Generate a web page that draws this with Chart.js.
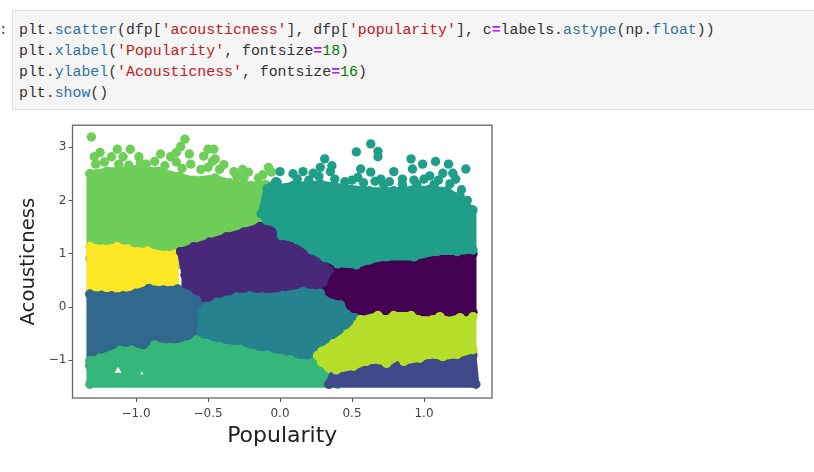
<!DOCTYPE html>
<html>
<head>
<meta charset="utf-8">
<script src="https://cdn.jsdelivr.net/npm/chart.js@4"></script>
<style>
  html, body { margin: 0; padding: 0; background: #fff; overflow: hidden; }
  body { width: 814px; height: 472px; position: relative; }
  .prompt { position: absolute; left: -1px; top: 20px; font: 14px/21px "Liberation Mono", monospace; color: #303f9f; }
  .cell {
    position: absolute; left: 12px; top: 10px; width: 820px; height: 98px;
    background: #f5f5f5; border: 1px solid #e0e0e0; box-sizing: content-box;
  }
  .cell pre {
    margin: 0; position: absolute; left: 6px; top: 9px;
    font: 14.86px/21px "Liberation Mono", monospace; color: #333;
  }
  .f { color: #30729f; } .s { color: #ba2121; } .o { color: #aa22ff; font-weight: bold; } .n { color: #008000; }
  #wrap { position: absolute; left: 0; top: 116px; width: 510px; height: 345px; filter: blur(0.45px); }
</style>
</head>
<body>
<div class="prompt">:</div>
<div class="cell"><pre>plt.<span class="f">scatter</span>(dfp[<span class="s">'acousticness'</span>], dfp[<span class="s">'popularity'</span>], c<span class="o">=</span>labels.<span class="f">astype</span>(np.<span class="f">float</span>))
plt.<span class="f">xlabel</span>(<span class="s">'Popularity'</span>, fontsize<span class="o">=</span><span class="n">18</span>)
plt.<span class="f">ylabel</span>(<span class="s">'Acousticness'</span>, fontsize<span class="o">=</span><span class="n">16</span>)
plt.<span class="f">show</span>()</pre></div>
<div id="wrap"><canvas id="chart" width="510" height="345"></canvas></div>
<script>
// cluster outlines, [acousticness, popularity] as plotted
const lightGreenOutline = [[-1.32,2.5],[-1.2,2.55],[-1.0,2.58],[-0.85,2.55],[-0.7,2.45],[-0.6,2.38],[-0.45,2.42],[-0.35,2.33],[-0.2,2.28],[-0.1,2.3],[0.0,2.2],[0.0,1.3],[-0.1,0.8],[-0.7,0.8],[-1.32,0.9]];
const lightGreenStray = [[-1.31,3.19],[-0.66,3.15],[-1.13,2.96],[-1.04,2.96],[-0.69,3.01],[-0.5,2.96],[-0.46,2.96],[-1.25,2.9],[-1.29,2.82],[-0.72,2.9],[-0.83,2.87],[-0.63,2.87],[-1.17,2.82],[-1.09,2.82],[-0.98,2.82],[-0.53,2.83],[-0.45,2.78],[-0.47,2.73],[-0.39,2.67],[-0.62,2.68],[-0.93,2.68],[-0.76,2.82],[-0.87,2.73],[-0.26,2.58],[-0.32,2.54],[-0.22,2.53],[-0.12,2.48],[-0.08,2.62],[-0.06,2.53],
  [-1.28,2.68],[-1.22,2.72],[-1.12,2.68],[-1.05,2.66],[-0.97,2.7],[-0.8,2.65],[-0.72,2.72],[-0.68,2.6],[-0.55,2.58],[-0.5,2.62],[-0.42,2.58],[-0.3,2.45],[-0.15,2.42],[-0.25,2.42]];
const yellowOutline = [[-1.32,1.13],[-1.23,1.09],[-1.13,1.13],[-1.06,1.09],[-0.99,1.04],[-0.92,1.05],[-0.79,0.97],[-0.73,0.99],[-0.725,0.3],[-1.32,0.3]];
const darkPurpleOutline = [[0.2,1.0],[0.6,1.1],[1.25,1.2],[1.34,1.0],[1.34,-0.1],[1.25,-0.4],[0.6,-0.4],[0.35,0.0],[0.25,0.45]];
const purpleOutline = [[-0.69,1.04],[-0.6,1.13],[-0.49,1.22],[-0.37,1.32],[-0.25,1.41],[-0.14,1.51],[-0.05,1.55],[0.2,1.2],[0.34,0.68],[0.3,0.46],[0.2,0.2],[-0.4,0.0],[-0.66,0.2],[-0.66,0.6]];
const steelOutline = [[-1.32,0.24],[-1.24,0.22],[-1.17,0.21],[-1.09,0.21],[-1.0,0.26],[-0.91,0.35],[-0.81,0.32],[-0.71,0.34],[-0.64,0.24],[-0.58,0.13],[-0.55,0.02],[-0.4,-0.3],[-0.45,-0.9],[-1.32,-1.1]];
const tealBlueOutline = [[-0.54,-0.29],[-0.54,-0.1],[-0.51,0.01],[-0.44,0.09],[-0.37,0.13],[-0.3,0.19],[-0.21,0.21],[-0.12,0.19],[0.02,0.22],[0.16,0.29],[0.28,0.26],[0.31,0.13],[0.42,0.04],[0.46,-0.13],[0.52,-0.2],[0.4,-0.7],[0.28,-0.9],[0.1,-1.1],[-0.3,-1.0],[-0.55,-0.7],[-0.55,-0.48]];
const greenOutline = [[-1.32,-1.01],[-1.25,-0.96],[-1.11,-0.81],[-1.03,-0.81],[-0.93,-0.87],[-0.87,-0.71],[-0.76,-0.76],[-0.65,-0.71],[-0.58,-0.62],[-0.51,-0.68],[-0.42,-0.74],[-0.28,-0.79],[-0.19,-0.87],[-0.09,-0.9],[0.0,-0.96],[0.07,-0.99],[0.16,-1.06],[0.23,-1.04],[0.28,-1.2],[0.4,-1.45],[-1.32,-1.45]];
const indigoOutline = [[0.34,-1.45],[1.36,-1.45],[1.34,-0.9],[1.25,-0.6],[0.6,-0.8],[0.38,-1.15]];
const limeOutline = [[0.56,-0.24],[0.68,-0.16],[0.73,-0.24],[0.79,-0.16],[0.91,-0.16],[0.96,-0.24],[1.06,-0.24],[1.11,-0.18],[1.16,-0.26],[1.25,-0.2],[1.3,-0.26],[1.34,-0.18],[1.34,-0.8],[1.23,-0.89],[1.13,-0.93],[1.04,-0.89],[0.97,-0.96],[0.86,-1.02],[0.82,-0.93],[0.74,-1.06],[0.69,-0.99],[0.6,-1.02],[0.51,-1.11],[0.39,-1.18],[0.34,-1.14],[0.29,-1.04],[0.26,-0.91],[0.29,-0.83],[0.37,-0.69],[0.47,-0.5],[0.54,-0.32]];
const tealOutline = [[-0.13,1.75],[-0.09,2.22],[-0.03,2.35],[-0.02,2.24],[0.09,2.28],[0.28,2.31],[0.45,2.24],[0.62,2.18],[0.79,2.18],[0.93,2.21],[1.04,2.21],[1.16,2.18],[1.24,2.04],[1.28,1.93],[1.34,1.82],[1.34,1.07],[1.23,1.04],[1.09,1.04],[0.93,0.94],[0.74,0.94],[0.62,0.88],[0.53,0.79],[0.4,0.81],[0.31,0.93],[0.22,1.07],[0.12,1.26],[0.01,1.34],[-0.01,1.53],[-0.09,1.62]];
const tealStray = [[0.0,2.54],[0.53,2.91],[0.63,3.06],[0.68,2.92],[0.68,2.82],[0.31,2.78],[0.36,2.65],[0.35,2.54],[0.28,2.62],[0.23,2.51],[0.16,2.54],[0.09,2.5],[0.56,2.59],[0.63,2.53],[0.54,2.43],[0.91,2.78],[0.92,2.59],[0.99,2.68],[1.08,2.73],[1.17,2.68],[1.29,2.59],[0.79,2.54],[0.85,2.4],[0.76,2.35],[1.13,2.51],[1.2,2.51],[1.22,2.4],[1.04,2.46],[1.0,2.4],[0.93,2.38],[0.45,2.35],[-0.02,2.34],[0.66,2.36],[1.18,2.31],[1.25,2.09],
  [0.12,2.4],[0.2,2.38],[0.27,2.45],[0.38,2.4],[0.5,2.38],[0.58,2.33],[0.7,2.4],[0.72,2.3],[0.85,2.3],[0.95,2.3],[1.1,2.38],[1.07,2.3],[1.26,2.2],[1.3,2.0]];
const gapSpots = [[-1.125,-1.195],[-0.96,-1.245]];
const xTicks = [-1.0, -0.5, 0.0, 0.5, 1.0];
const yTicks = [-1, 0, 1, 2, 3];

// back to front, later clusters paint over earlier ones
const layers = [
  [lightGreenOutline, lightGreenStray, "#6ece58"],
  [yellowOutline, [], "#fde725"],
  [darkPurpleOutline, [], "#440154"],
  [purpleOutline, [], "#482878"],
  [steelOutline, [], "#31688e"],
  [tealBlueOutline, [], "#26828e"],
  [greenOutline, [], "#35b779"],
  [indigoOutline, [], "#3e4989"],
  [limeOutline, [], "#b5de2b"],
  [tealOutline, tealStray, "#1f9e89"],
];

const toPoints = (arr) => arr.map(([x, y]) => ({ x, y }));

const datasets = [];
layers.forEach(([outline, stray, color], i) => {
  datasets.push({
    data: toPoints(outline.concat([outline[0]])),
    order: 100 - i * 2,
    showLine: true,
    fill: "shape",
    backgroundColor: color,
    borderColor: color,
    borderWidth: 7,
    borderJoinStyle: "round",
    pointBackgroundColor: color,
    pointBorderWidth: 0,
    pointRadius: 4.7,
  });
  if (stray.length) {
    datasets.push({
      data: toPoints(stray),
      order: 99 - i * 2,
      showLine: false,
      pointBackgroundColor: color,
      pointBorderWidth: 0,
      pointRadius: 4.7,
    });
  }
});
datasets.push({
  data: toPoints(gapSpots),
  order: 0,
  showLine: false,
  pointStyle: "triangle",
  pointBackgroundColor: "#fff",
  pointBorderWidth: 0,
  pointRadius: [4, 1.8],
});

const frame = {
  id: "frame",
  afterDraw(chart) {
    const { ctx, chartArea: a } = chart;
    ctx.save();
    ctx.strokeStyle = "#666";
    ctx.lineWidth = 1.3;
    ctx.strokeRect(a.left, a.top, a.right - a.left, a.bottom - a.top);
    ctx.restore();
  },
};

const tickFont = { family: "DejaVu Sans", size: 12 };
const minus = (s) => s.replace("-", "\u2212");

new Chart(document.getElementById("chart"), {
  type: "scatter",
  data: { datasets },
  plugins: [frame],
  options: {
    responsive: false,
    animation: false,
    layout: { padding: { top: 3, right: 18, left: 0, bottom: 0 } },
    plugins: { legend: { display: false }, tooltip: { enabled: false } },
    scales: {
      x: {
        min: -1.441,
        max: 1.472,
        afterFit: (s) => { s.height = 63; },
        afterBuildTicks: (s) => { s.ticks = xTicks.map((value) => ({ value })); },
        grid: { drawOnChartArea: false, color: "#555", tickLength: 4 },
        border: { display: false },
        ticks: {
          color: "#444", font: tickFont, padding: 5, maxRotation: 0, autoSkip: false,
          callback: (v) => minus(v.toFixed(1)),
        },
        title: {
          display: true, text: "Popularity", color: "#222",
          font: { family: "DejaVu Sans", size: 22 }, padding: { top: 0, bottom: 12 },
        },
      },
      y: {
        min: -1.707,
        max: 3.411,
        afterFit: (s) => { s.width = 72.5; },
        afterBuildTicks: (s) => { s.ticks = yTicks.map((value) => ({ value })); },
        grid: { drawOnChartArea: false, color: "#555", tickLength: 4 },
        border: { display: false },
        ticks: {
          color: "#444", font: tickFont, padding: 2, autoSkip: false,
          callback: (v) => minus(String(v)),
        },
        title: {
          display: true, text: "Acousticness", color: "#222",
          font: { family: "DejaVu Sans", size: 19.7 }, padding: { top: 17, bottom: 0 },
        },
      },
    },
  },
});
</script>
</body>
</html>
